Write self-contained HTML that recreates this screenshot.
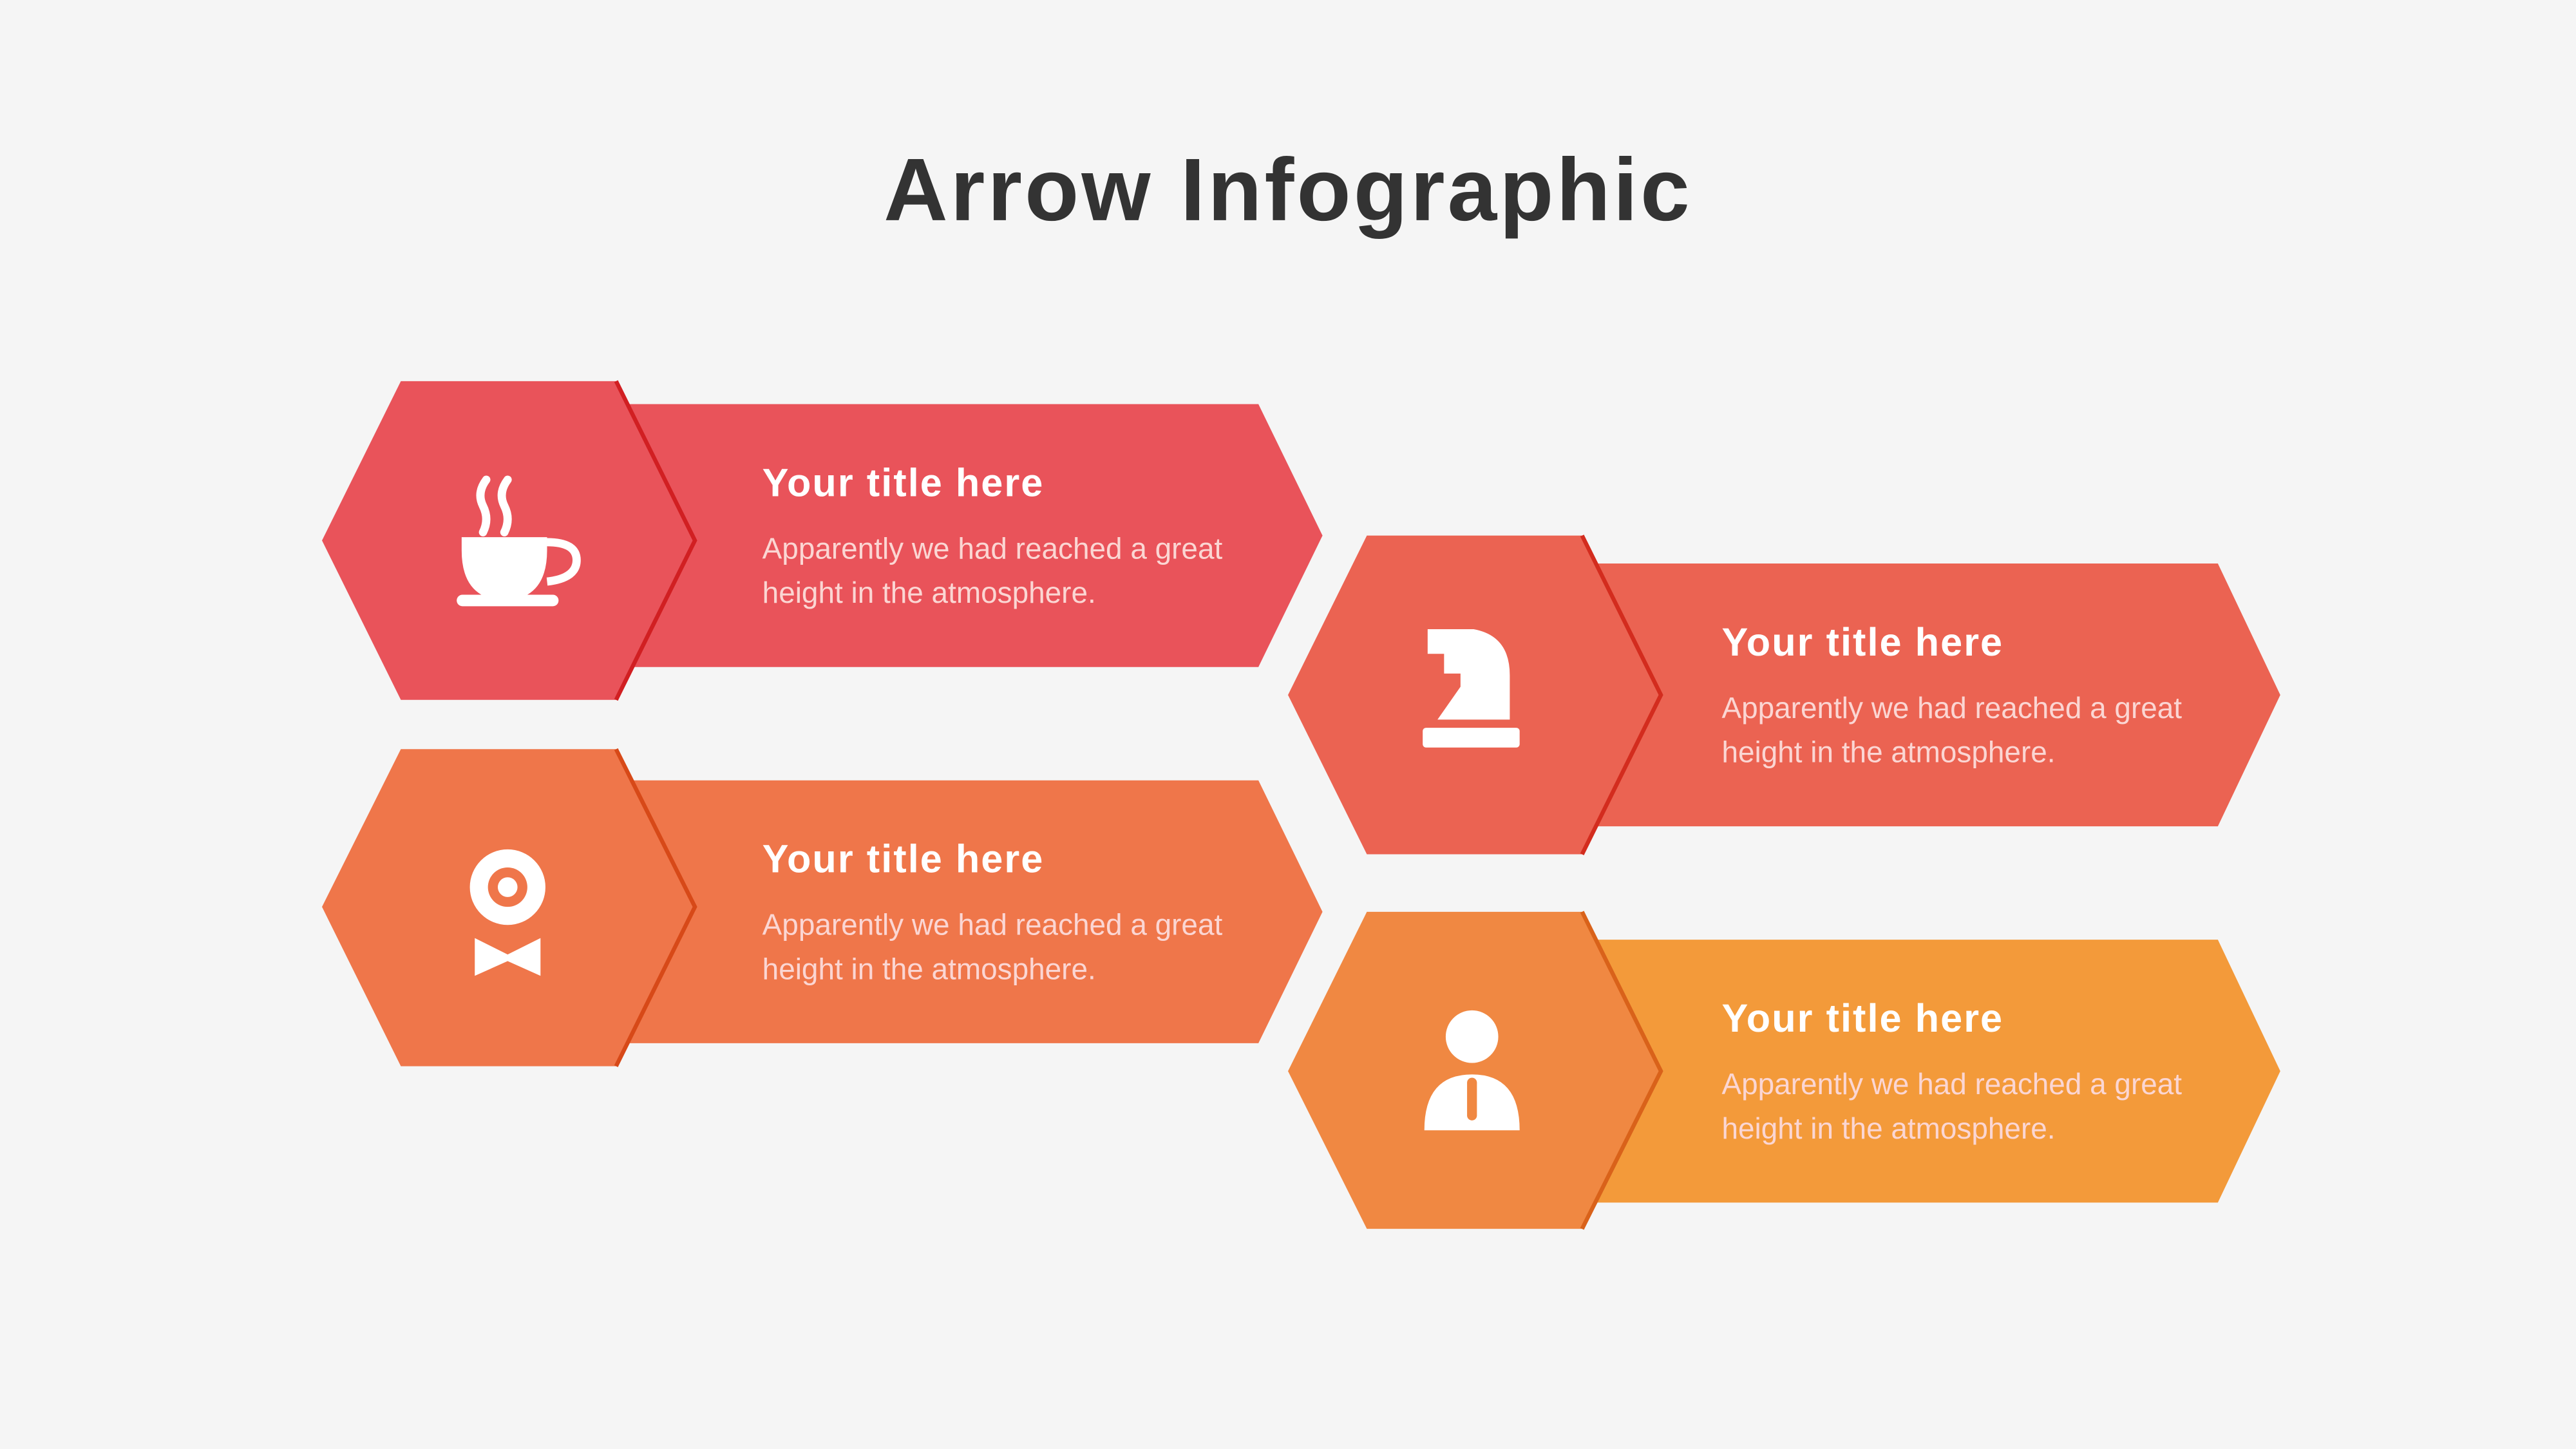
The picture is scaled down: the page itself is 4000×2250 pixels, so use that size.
<!DOCTYPE html>
<html><head><meta charset="utf-8"><style>
html,body{margin:0;padding:0;background:#f5f5f5;}
svg{display:block}
.t{font-family:"Liberation Sans",sans-serif;font-weight:bold;fill:#fff;font-size:24px;letter-spacing:0.8px}
.b{font-family:"Liberation Sans",sans-serif;fill:#fbd6d3;font-size:18px}
</style></head><body>
<svg width="4000" height="2250" viewBox="0 0 1568 882" preserveAspectRatio="none" xmlns="http://www.w3.org/2000/svg">
<rect width="1568" height="882" fill="#f5f5f5"/>
<text x="784" y="134" text-anchor="middle" font-family="Liberation Sans,sans-serif" font-weight="bold" font-size="54" letter-spacing="1.6" fill="#333">Arrow Infographic</text>

<g>
<polygon points="383,246 766,246 805,326 766,406 383,406" fill="#e9535a"/>
<polygon points="196,329 244,232 375,232 423,329 375,426 244,426" fill="#e9535a"/>
<polyline points="375,232 423,329 375,426" fill="none" stroke="#d11f22" stroke-width="2.5"/>
<text class="t" x="464" y="302">Your title here</text>
<text class="b" x="464" y="340">Apparently we had reached a great</text>
<text class="b" x="464" y="367">height in the atmosphere.</text>
<path d="M296,292 q-6,8 -2,16 q4,8 0,16" stroke="#fff" stroke-width="5" fill="none" stroke-linecap="round"/>
<path d="M309,292 q-6,8 -2,16 q4,8 0,16" stroke="#fff" stroke-width="5" fill="none" stroke-linecap="round"/>
<path d="M281,327 h52 v8 q0,20 -12,27 h-28 q-12,-7 -12,-27z" fill="#fff"/>
<path d="M333,330 q18,0 18,11 q0,11 -18,13" stroke="#fff" stroke-width="5" fill="none"/>
<rect x="278" y="362" width="62" height="7" rx="3.5" fill="#fff"/>
</g>

<g>
<polygon points="383,475 766,475 805,555 766,635 383,635" fill="#ef764a"/>
<polygon points="196,552 244,456 375,456 423,552 375,649 244,649" fill="#ef764a"/>
<polyline points="375,456 423,552 375,649" fill="none" stroke="#d74918" stroke-width="2.5"/>
<text class="t" x="464" y="531">Your title here</text>
<text class="b" x="464" y="569">Apparently we had reached a great</text>
<text class="b" x="464" y="596">height in the atmosphere.</text>
<circle cx="309" cy="540" r="23" fill="#fff"/>
<circle cx="309" cy="540" r="12" fill="#ef764a"/>
<circle cx="309" cy="540" r="6" fill="#fff"/>
<path d="M289,571 l20,10 l20,-10 v23 l-20,-9 l-20,9z" fill="#fff"/>
</g>

<g>
<polygon points="970,343 1350,343 1388,423 1350,503 970,503" fill="#eb6352"/>
<polygon points="784,423 832,326 963,326 1011,423 963,520 832,520" fill="#eb6352"/>
<polyline points="963,326 1011,423 963,520" fill="none" stroke="#d32c1e" stroke-width="2.5"/>
<text class="t" x="1048" y="399">Your title here</text>
<text class="b" x="1048" y="437">Apparently we had reached a great</text>
<text class="b" x="1048" y="464">height in the atmosphere.</text>
<path d="M869,383 h28 q22,4 22,28 v27 h-44 l14,-20 v-8 h-10 v-12 h-10z" fill="#fff"/>
<rect x="866" y="443" width="59" height="12" rx="2" fill="#fff"/>
</g>

<g>
<polygon points="970,572 1350,572 1388,652 1350,732 970,732" fill="#f39a3a"/>
<polygon points="784,652 832,555 963,555 1011,652 963,748 832,748" fill="#f08842"/>
<polyline points="963,555 1011,652 963,748" fill="none" stroke="#d9621a" stroke-width="2.5"/>
<text class="t" x="1048" y="628">Your title here</text>
<text class="b" x="1048" y="666">Apparently we had reached a great</text>
<text class="b" x="1048" y="693">height in the atmosphere.</text>
<circle cx="896" cy="631" r="16" fill="#fff"/>
<path d="M867,688 q0,-34 29,-34 q29,0 29,34z" fill="#fff"/>
<rect x="893" y="656" width="6" height="26" rx="3" fill="#f08842"/>
</g>
</svg>
</body></html>
